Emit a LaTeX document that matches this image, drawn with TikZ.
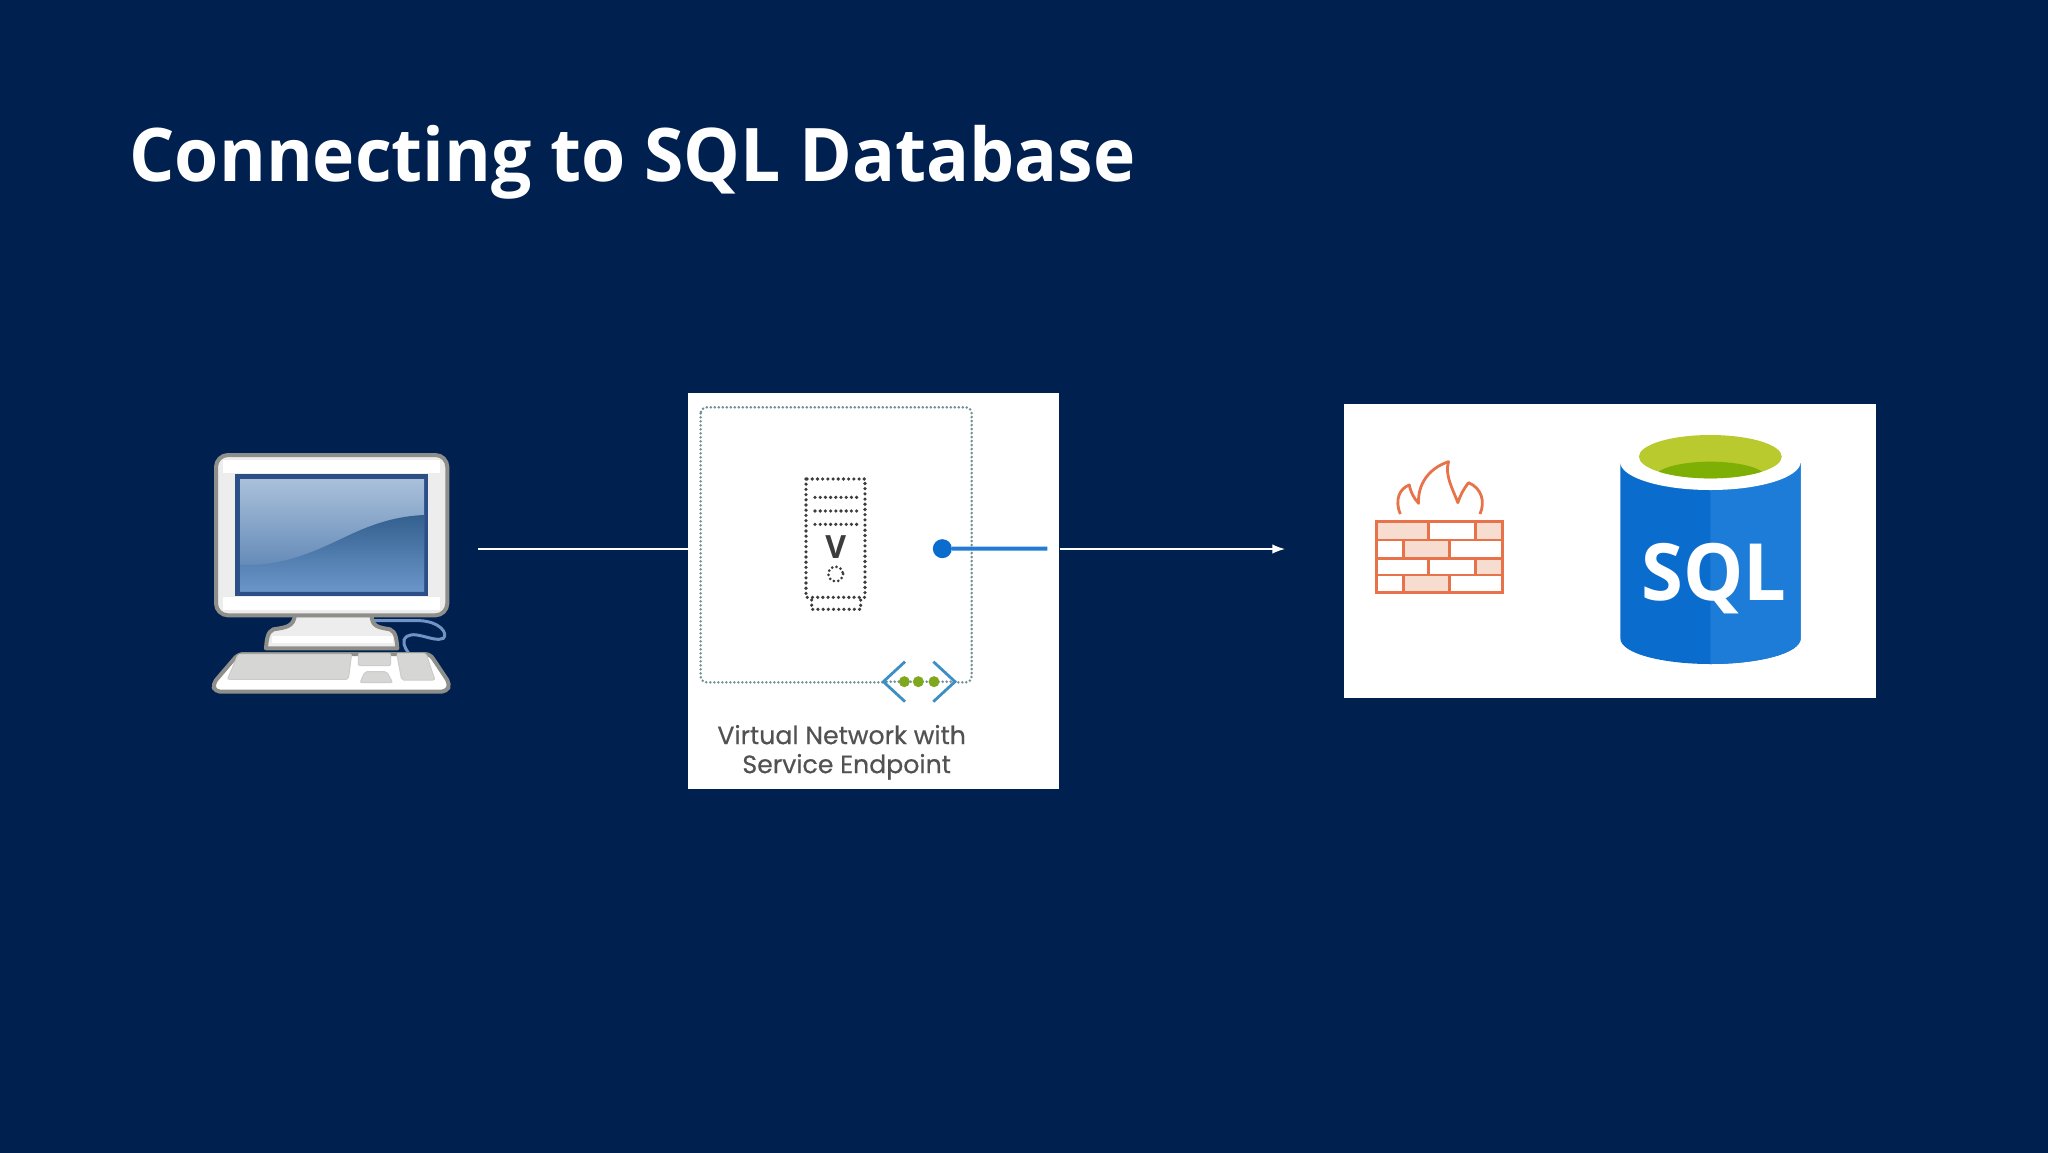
\documentclass[tikz,border=0pt]{standalone}
\usepackage{fontspec}
\setmainfont{Open Sans}
\newfontfamily\vnetfont[FakeBold=0.5]{Poppins}
\newfontfamily\titlefont[FakeStretch=0.965]{Open Sans}
\newfontfamily\sqlfont[FakeStretch=0.96]{Open Sans}
\usetikzlibrary{arrows.meta,positioning}
\definecolor{slidebg}{HTML}{00204F}
\definecolor{greyedge}{HTML}{8E8E8A}
\definecolor{wiredark}{HTML}{6F93C4}
\definecolor{screenedge}{HTML}{2B4F86}
\definecolor{screentop}{HTML}{AAC0DA}
\definecolor{screenmid}{HTML}{4F7BAE}
\definecolor{wavetop}{HTML}{34608F}
\definecolor{wavelow}{HTML}{6A96CA}
\definecolor{keygrey}{HTML}{D6D6D4}
\definecolor{brick}{HTML}{E8734A}
\definecolor{brickfill}{HTML}{F7DDD0}
\definecolor{sqlblue}{HTML}{0A6DCE}
\definecolor{sqllight}{HTML}{1C7CD8}
\definecolor{sqlrim}{HTML}{B8CA2E}
\definecolor{sqlfillgreen}{HTML}{7DAF05}
\definecolor{dotdark}{HTML}{3C3C3C}
\definecolor{frameteal}{HTML}{6F8F96}
\definecolor{bracketblue}{HTML}{3C8FC6}
\definecolor{dotgreen}{HTML}{7FA81E}

\begin{document}
\begin{tikzpicture}[
		  x=0.5pt, y=-0.5pt, >=Latex,
		  panel/.style={fill=white, anchor=north west, inner sep=0pt},
		  link/.style={draw=white, line width=0.75pt},
		  pcbody/.style={draw=greyedge, line width=2pt, fill=#1, line join=round},
		  pcbody/.default={white!93!black},
		  keycap/.style={fill=keygrey, draw=black!20, line width=0.5pt, rounded corners=1pt},
		  vframe/.style={draw=frameteal, line width=1.4pt, dash pattern=on 0pt off 2pt, line cap=round},
		  vdots/.style={draw=dotdark, line width=1.8pt, dash pattern=on 0pt off 2.6pt, line cap=round},
		  bracket/.style={draw=bracketblue, line width=1.4pt},
		  vdot/.style={circle, fill=dotgreen, inner sep=0pt, minimum size=5.5pt},
		  brickline/.style={draw=brick, line width=1.4pt}
		]
		\useasboundingbox (0,0) rectangle (2048,1152);
		\fill[slidebg] (-8,-8) rectangle (2056,1160);

		\node[anchor=base west, inner sep=0pt, text=white, font=\titlefont\fontsize{37}{37}\bfseries\selectfont] (slide_title) at (129,181) {Connecting to SQL Database};

		\begin{scope}[shift={(190,430)}, scale=1/3]
			\draw[draw=wiredark, line width=1.5pt] (545,572) -- (690,572) .. controls (750,575) and (775,610) .. (760,625) .. controls (730,640) and (660,590) .. (642,630) .. controls (640,650) and (650,660) .. (660,675);
			\draw[pcbody] (315,555) .. controls (310,590) and (290,592) .. (250,598) .. controls (232,605) and (230,630) .. (228,655) -- (622,655) .. controls (620,630) and (618,605) .. (600,598) .. controls (565,592) and (545,590) .. (545,555) -- cycle;
			\fill[white] (245,618) rectangle (610,640);
			\draw[pcbody=white, rounded corners=2.5pt] (145,672) -- (720,672) -- (780,762) -- (770,785) -- (75,785) -- (68,762) -- cycle;
			\draw[keycap] (145,672) -- (485,672) -- (475,748) -- (112,748) -- cycle;
			\draw[keycap] (505,670) rectangle (602,707);
			\draw[keycap] (525,725) -- (590,725) -- (608,758) -- (510,758) -- cycle;
			\draw[keycap] (620,670) -- (708,670) -- (735,750) -- (635,750) -- cycle;
			\draw[pcbody, rounded corners=6pt] (78,75) rectangle (772,556);
			\fill[white] (100,90) rectangle (750,130);
			\fill[white] (100,502) rectangle (750,540);
			\fill[screenedge] (135,133) rectangle (715,498);
			\shade[top color=screentop, bottom color=screenmid] (150,148) rectangle (702,485);
			\shade[top color=wavetop, bottom color=wavelow] (150,405) .. controls (300,410) and (400,350) .. (500,305) .. controls (580,270) and (640,258) .. (702,255) -- (702,485) -- (150,485) -- cycle;
		\end{scope}
		\coordinate (pc_out) at (478,549);

		\node[panel, minimum width=185.5pt, minimum height=198pt] (vnet_panel) at (688,393) {};
		\node[panel, minimum width=266pt, minimum height=147pt] (db_panel) at (1344,404) {};

		\draw[link] (pc_out) -- (pc_out -| vnet_panel.west);
		\draw[link, ->, shorten >=29.5pt] (pc_out -| vnet_panel.east) -- (pc_out -| db_panel.west);

		\begin{scope}[shift={(670,380)}, scale=1/3]
			\draw[vframe, rounded corners=3pt] (92,82) rectangle (905,907);
			\draw[vdots] (408,297) rectangle (585,652);
			\draw[vdots] (425,660) -- (425,688) -- (572,688) -- (572,660);
			\foreach \ylev in {352,393,433}
				\draw[vdots] (435,\ylev) -- (560,\ylev);
			\draw[vdots, line width=1.5pt, dash pattern=on 0pt off 2.2pt] (497,582) circle (22);
			\node[text=dotdark, inner sep=0pt, font=\fontsize{16}{16}\bfseries\selectfont] (server_tag) at (497,500) {V};
			\fill[white] (650,880) rectangle (850,930);
			\draw[vframe] (650,905) -- (850,905);
			\draw[bracket] (705,845) -- (640,905) -- (705,965);
			\draw[bracket] (790,845) -- (855,905) -- (790,965);
			\foreach \xpos/\dotname in {703/a,745/b,792/c}
				\node[vdot] (vnet_dot\dotname) at (\xpos,905) {};
			\node[circle, fill=sqlblue, inner sep=0pt, minimum size=9.5pt] (endpoint_dot) at (817,506) {};
			\coordinate (endpoint_end) at (1132,506);
			\draw[draw=sqlblue!90!white, line width=2pt] (endpoint_dot) -- (endpoint_end);
			\node[text=black!68, inner sep=0pt, align=center, font=\vnetfont\fontsize{12.6}{14.5}\selectfont] (vnet_text) at (515,1117) {Virtual Network with\\ \hspace*{5pt}Service Endpoint};
		\end{scope}

		\begin{scope}[shift={(1330,390)}, xscale=1/2.8, yscale=1/3]
			\fill[brickfill] (130,395) rectangle (275,450);
			\fill[brickfill] (408,395) rectangle (482,450);
			\fill[brickfill] (205,450) rectangle (335,505);
			\fill[brickfill] (408,505) rectangle (482,555);
			\fill[brickfill] (205,555) rectangle (335,607);
			\draw[brickline] (130,395) rectangle (482,607);
			\foreach \ylev in {450,505,555}
				\draw[brickline] (130,\ylev) -- (482,\ylev);
			\foreach \xpos/\ytop/\ybot in {275/395/450,408/395/450,205/450/505,335/450/505,275/505/555,408/505/555,205/555/607,335/555/607}
				\draw[brickline] (\xpos,\ytop) -- (\xpos,\ybot);
			\draw[brickline, line join=round] (197,372) .. controls (180,330) and (195,295) .. (222,285) .. controls (225,305) and (235,325) .. (248,340) .. controls (245,285) and (275,235) .. (332,215) .. controls (320,255) and (345,300) .. (358,338) .. controls (365,315) and (375,295) .. (388,278) .. controls (425,295) and (435,335) .. (420,372);

			\fill[sqlblue] (813,220) -- (1318,220) -- (1318,745) .. controls (1318,790) and (1200,822) .. (1065,822) .. controls (930,822) and (813,790) .. (813,745) -- cycle;
			\fill[sqllight] (1065,220) -- (1318,220) -- (1318,745) .. controls (1318,790) and (1200,822) .. (1065,822) -- cycle;
			\fill[white] (1065,215) ellipse [x radius=253, y radius=85];
			\fill[sqlrim] (1065,200) ellipse [x radius=200, y radius=65];
			\begin{scope}
				\clip (1065,200) ellipse [x radius=200, y radius=65];
				\fill[sqlfillgreen] (1065,262) ellipse [x radius=155, y radius=47];
			\end{scope}
		\end{scope}
		\node[text=white, inner sep=0pt, font=\sqlfont\fontsize{39.5}{39.5}\bfseries\selectfont, anchor=base] (sql_label) at (1714,600) {SQL};
		\end{tikzpicture}
\end{document}
